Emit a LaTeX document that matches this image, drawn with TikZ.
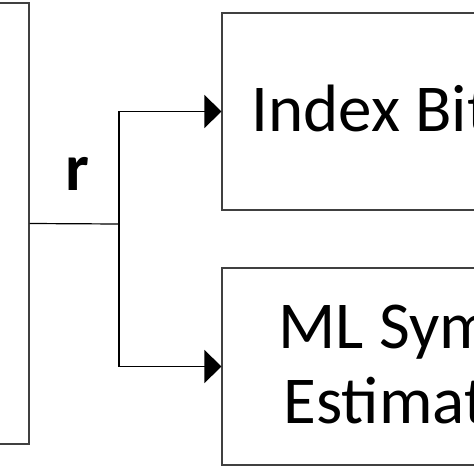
\documentclass[tikz,border=0pt]{standalone}
\usepackage{fontspec}
\setmainfont{Carlito}
\usetikzlibrary{arrows.meta}
\begin{document}
\begin{tikzpicture}[x=1pt, y=-1pt, >={Triangle[length=17pt,width=33pt]}, line width=1.2pt,
    block/.style={draw=black!75, line width=1.1pt, inner sep=0pt, minimum width=406pt, minimum height=197pt},
    big/.style={font=\fontsize{67}{75}\selectfont, inner sep=0pt}]
    \clip (0,0) rectangle (474,474);
    \node[draw=black!75, line width=1.1pt, minimum width=229pt, minimum height=441pt] (rx) at (-85.5,223.5) {};
    \node[block] (ibe) at (425,111.5) {};
    \node[block] (mls) at (425,366.5) {};
    \coordinate (split) at (119,224);
    \draw (rx.east) -- (split);
    \draw[->] (split) |- (ibe.west);
    \draw[->] (split) |- (mls.west);
    \node[big, font=\fontsize{67}{75}\selectfont\bfseries, anchor=base] (r) at (77,190) {r};
    \node[big, anchor=base west] (ibt) at (251,131) {Index Bits};
    \node[big, anchor=base west] (ml) at (278,348) {ML Symbol};
    \node[big, anchor=base west] (est) at (283,423) {Estimation};
\end{tikzpicture}
\end{document}
